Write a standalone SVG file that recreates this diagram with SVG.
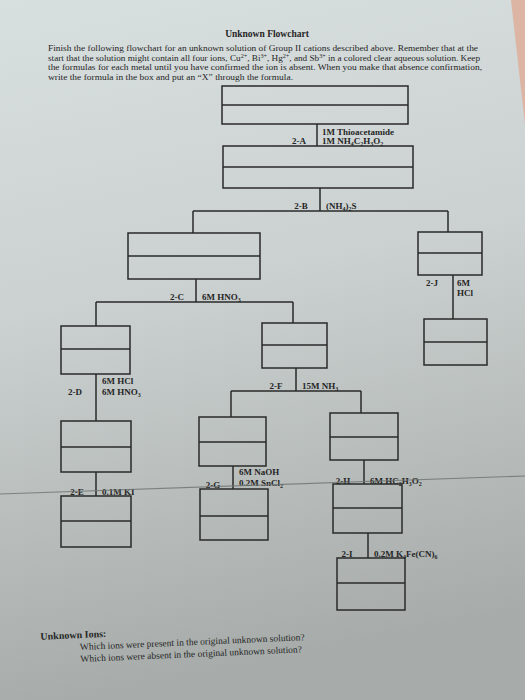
<svg xmlns="http://www.w3.org/2000/svg" width="525" height="700" viewBox="0 0 525 700">
  <defs>
    <linearGradient id="paper" x1="0" y1="0" x2="0.15" y2="1">
      <stop offset="0" stop-color="#d8dfdf"/>
      <stop offset="0.45" stop-color="#cbd1d0"/>
      <stop offset="1" stop-color="#a7acaa"/>
    </linearGradient>
    <style>
      .box { fill: none; stroke: #2a2a2a; stroke-width: 1.5; }
      .div { stroke: #2a2a2a; stroke-width: 1.5; }
      .conn { fill: none; stroke: #2a2a2a; stroke-width: 1.5; }
      .t { font-family: "Liberation Serif", "Times New Roman", serif; fill: #262626; }
      .lbl { font-family: "Liberation Serif", "Times New Roman", serif; font-size: 9px; font-weight: bold; fill: #262626; }
      .mid { text-anchor: middle; }
    </style>
  </defs>
  <rect x="0" y="0" width="525" height="700" fill="url(#paper)"/>
  <polygon points="511,0 525,0 525,125" fill="#dcb5a5"/>

  <g id="header">
    <text class="t mid" x="267" y="37" font-size="9.5" font-weight="bold">Unknown Flowchart</text>
    <text class="t" x="48" y="51" font-size="8.3" textLength="430" lengthAdjust="spacingAndGlyphs">Finish the following flowchart for an unknown solution of Group II cations described above.  Remember that at the</text>
    <text class="t" x="48" y="60.5" font-size="8.3" textLength="432" lengthAdjust="spacingAndGlyphs">start that the solution might contain all four ions, Cu<tspan font-size="5.5" dy="-3">2+</tspan><tspan dy="3">, Bi</tspan><tspan font-size="5.5" dy="-3">3+</tspan><tspan dy="3">, Hg</tspan><tspan font-size="5.5" dy="-3">2+</tspan><tspan dy="3">, and Sb</tspan><tspan font-size="5.5" dy="-3">3+</tspan><tspan dy="3"> in a colored clear aqueous solution.  Keep</tspan></text>
    <text class="t" x="48" y="70" font-size="8.3" textLength="434" lengthAdjust="spacingAndGlyphs">the formulas for each metal until you have confirmed the ion is absent.  When you make that absence confirmation,</text>
    <text class="t" x="48" y="80" font-size="8.3" textLength="245" lengthAdjust="spacingAndGlyphs">write the formula in the box and put an “X” through the formula.</text>
  </g>

  <g id="connectors">
    <path class="conn" d="M317,124 V146"/>
    <path class="conn" d="M320,188 V211 M193,211 H448 M193,211 V233 M448,211 V232"/>
    <path class="conn" d="M196,279 V302 M96,302 H293 M96,302 V326 M293,302 V323"/>
    <path class="conn" d="M453,275 V319"/>
    <path class="conn" d="M96,374 V421"/>
    <path class="conn" d="M296,368 V391 M231,391 H361 M231,391 V417 M361,391 V413"/>
    <path class="conn" d="M96,472 V496"/>
    <path class="conn" d="M233,466 V489"/>
    <path class="conn" d="M364,460 V484"/>
    <path class="conn" d="M368,533 V558"/>

    <text class="lbl mid" x="299" y="144">2-A</text>
    <text class="lbl" x="322" y="135">1M Thioacetamide</text>
    <text class="lbl" x="322" y="144">1M NH<tspan font-size="6" dy="1.5">4</tspan><tspan dy="-1.5">C</tspan><tspan font-size="6" dy="1.5">2</tspan><tspan dy="-1.5">H</tspan><tspan font-size="6" dy="1.5">3</tspan><tspan dy="-1.5">O</tspan><tspan font-size="6" dy="1.5">2</tspan></text>

    <text class="lbl mid" x="301" y="209">2-B</text>
    <text class="lbl" x="326" y="209">(NH<tspan font-size="6" dy="1.5">4</tspan><tspan dy="-1.5">)</tspan><tspan font-size="6" dy="1.5">2</tspan><tspan dy="-1.5">S</tspan></text>

    <text class="lbl mid" x="177" y="300">2-C</text>
    <text class="lbl" x="202" y="300">6M HNO<tspan font-size="6" dy="1.5">3</tspan></text>

    <text class="lbl mid" x="432" y="286">2-J</text>
    <text class="lbl" x="457" y="286">6M</text>
    <text class="lbl" x="457" y="296">HCl</text>

    <text class="lbl mid" x="75" y="395">2-D</text>
    <text class="lbl" x="102" y="384">6M HCl</text>
    <text class="lbl" x="102" y="395">6M HNO<tspan font-size="6" dy="1.5">3</tspan></text>

    <text class="lbl mid" x="276" y="389">2-F</text>
    <text class="lbl" x="302" y="389">15M NH<tspan font-size="6" dy="1.5">3</tspan></text>

    <text class="lbl mid" x="77" y="495">2-E</text>
    <text class="lbl" x="102" y="495">0.1M KI</text>

    <text class="lbl mid" x="213" y="488">2-G</text>
    <text class="lbl" x="239" y="475">6M NaOH</text>
    <text class="lbl" x="239" y="486">0.2M SnCl<tspan font-size="6" dy="1.5">2</tspan></text>

    <text class="lbl mid" x="343" y="484">2-H</text>
    <text class="lbl" x="370" y="484">6M HC<tspan font-size="6" dy="1.5">2</tspan><tspan dy="-1.5">H</tspan><tspan font-size="6" dy="1.5">3</tspan><tspan dy="-1.5">O</tspan><tspan font-size="6" dy="1.5">2</tspan></text>

    <text class="lbl mid" x="347" y="557">2-I</text>
    <text class="lbl" x="374" y="557">0.2M K<tspan font-size="6" dy="1.5">4</tspan><tspan dy="-1.5">Fe(CN)</tspan><tspan font-size="6" dy="1.5">6</tspan></text>
  </g>

  <g id="box-start"><rect class="box" x="222" y="86" width="186" height="38"/><line class="div" x1="222" y1="105" x2="408" y2="105"/></g>
  <g id="box-2A"><rect class="box" x="223" y="146" width="190" height="42"/><line class="div" x1="223" y1="167" x2="413" y2="167"/></g>
  <g id="box-2B-left"><rect class="box" x="128" y="233" width="132" height="46"/><line class="div" x1="128" y1="256" x2="260" y2="256"/></g>
  <g id="box-2B-right"><rect class="box" x="418" y="232" width="64" height="43"/><line class="div" x1="418" y1="253" x2="482" y2="253"/></g>
  <g id="box-2J"><rect class="box" x="424" y="319" width="63" height="46"/><line class="div" x1="424" y1="342" x2="487" y2="342"/></g>
  <g id="box-2C-left"><rect class="box" x="61" y="326" width="69" height="48"/><line class="div" x1="61" y1="349" x2="130" y2="349"/></g>
  <g id="box-2C-right"><rect class="box" x="262" y="323" width="65" height="45"/><line class="div" x1="262" y1="345" x2="327" y2="345"/></g>
  <g id="box-2D"><rect class="box" x="61" y="421" width="70" height="51"/><line class="div" x1="61" y1="447" x2="131" y2="447"/></g>
  <g id="box-2F-left"><rect class="box" x="199" y="417" width="67" height="49"/><line class="div" x1="199" y1="442" x2="266" y2="442"/></g>
  <g id="box-2F-right"><rect class="box" x="330" y="413" width="68" height="47"/><line class="div" x1="330" y1="437" x2="398" y2="437"/></g>
  <g id="box-2E"><rect class="box" x="61" y="496" width="70" height="51"/><line class="div" x1="61" y1="521" x2="131" y2="521"/></g>
  <g id="box-2G"><rect class="box" x="200" y="489" width="68" height="51"/><line class="div" x1="200" y1="516" x2="268" y2="516"/></g>
  <g id="box-2H"><rect class="box" x="333" y="484" width="69" height="49"/><line class="div" x1="333" y1="508" x2="402" y2="508"/></g>
  <g id="box-2I"><rect class="box" x="337" y="558" width="68" height="52"/><line class="div" x1="337" y1="583" x2="405" y2="583"/></g>

  <line x1="0" y1="494" x2="525" y2="476" stroke="#6e7371" stroke-width="1.2" opacity="0.8"/>

  <g id="footer" transform="rotate(-2.5 80 648)">
    <text class="t" x="41" y="638" font-size="10" font-weight="bold">Unknown Ions:</text>
    <text class="t" x="80" y="650" font-size="9.5">Which ions were present in the original unknown solution?</text>
    <text class="t" x="80" y="662" font-size="9.5">Which ions were absent in the original unknown solution?</text>
  </g>
</svg>
